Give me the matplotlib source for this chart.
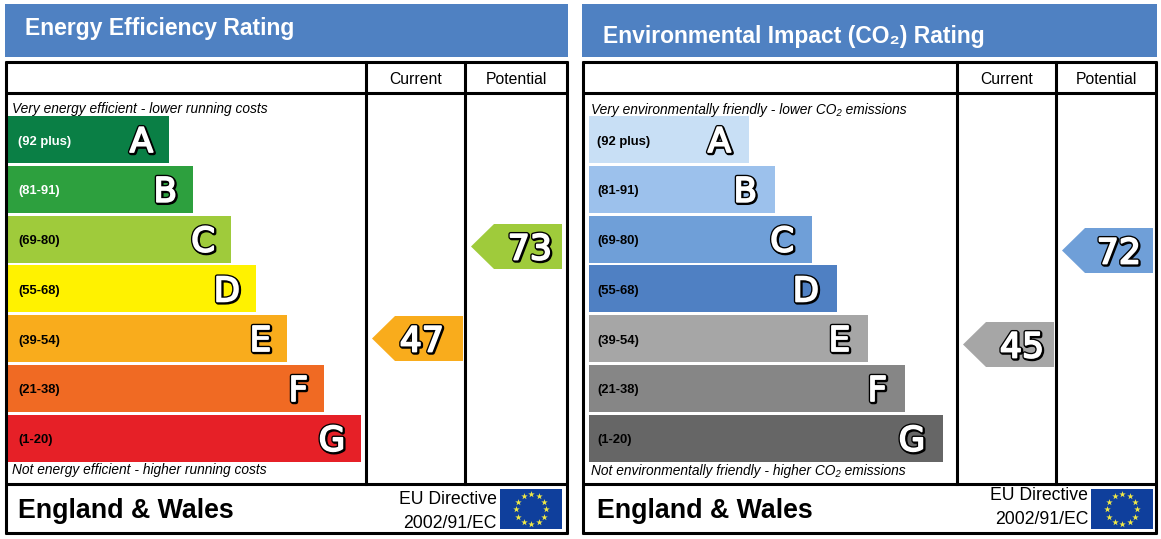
import numpy as np
import matplotlib
matplotlib.use("Agg")
import matplotlib.pyplot as plt
import matplotlib.patheffects as pe
from matplotlib.patches import Rectangle, Polygon

plt.rcParams["font.family"] = ["Liberation Sans", "DejaVu Sans"]

# data
letters = ["A", "B", "C", "D", "E", "F", "G"]
bands = ["(92 plus)", "(81-91)", "(69-80)", "(55-68)", "(39-54)", "(21-38)", "(1-20)"]
band_text_white = [True, True, False, False, False, False, False]
energy_ends = [169, 193, 231, 256, 287, 324, 361]
co2_ends = [749, 775, 812, 837, 868, 905, 943]
energy_colors = ["#0a7f45", "#2da03e", "#9fcb3b", "#fff200", "#f9ac1c", "#f06a23", "#e62027"]
co2_colors = ["#c8dff5", "#9cc1ec", "#6f9fd8", "#4f80c3", "#a6a6a6", "#868686", "#666666"]
energy_current, energy_potential = 47, 73
co2_current, co2_potential = 45, 72
energy_current_color, energy_potential_color = "#f9ac1c", "#9fcb3b"
co2_current_color, co2_potential_color = "#a6a6a6", "#6f9fd8"

fig = plt.figure(figsize=(11.61, 5.39), dpi=100)
ax = fig.add_axes([0, 0, 1, 1])
ax.set_xlim(0, 1161)
ax.set_ylim(539, 0)
ax.axis("off")

# thin black outline around a fattened white glyph
letter_fx = [pe.withStroke(linewidth=3.2, foreground="black"),
             pe.withStroke(linewidth=1.3, foreground="white")]


def big_text(x, y, s, size):
    # shadow first, then the outlined glyphs
    ax.text(x + 1, y + 1, s, fontsize=size, family="DejaVu Sans", color="black",
            ha="right", va="center", path_effects=[pe.withStroke(linewidth=3.2, foreground="black")])
    ax.text(x, y, s, fontsize=size, family="DejaVu Sans", color="white",
            ha="right", va="center", path_effects=letter_fx)


def arrow(tip, right, top, value, color, gap):
    h = 45
    pts = [(tip, top + h / 2), (tip + 23, top), (right, top), (right, top + h), (tip + 23, top + h)]
    ax.add_patch(Polygon(pts, closed=True, fc=color, ec="none"))
    big_text(right - gap, top + h / 2 + 3, str(value), 25)


def flag(x, y):
    ax.add_patch(Rectangle((x, y), 62, 40, fc="#0f3f9c", ec="none"))
    ang = np.deg2rad(np.arange(0, 360, 30))
    ax.scatter(x + 31 + 15 * np.cos(ang), y + 20 + 15 * np.sin(ang), marker="*", s=24,
               color="#f2ea45", linewidths=0, zorder=3)


def panel(x0, x1, vc, vp, title, title_y, top_note, top_y, low_note, low_y, bar_x,
          ends, colors, cur, cur_color, cur_tip, cur_top, cur_gap,
          pot, pot_color, pot_tip, pot_top, pot_gap,
          eu_text_y, band_x, flag_x, letter_gap, shift):
    ax.add_patch(Rectangle((x0, 4), x1 - x0, 53, fc="#4f81c2", ec="none"))
    ax.text(x0 + 20 + shift / 2, title_y, title, color="white", fontsize=16.5, fontweight="bold", va="center")

    lw = 2.2
    for y in [62, 92.5, 483.5, 533]:
        ax.plot([x0, x1], [y, y], color="black", lw=lw, solid_capstyle="butt")
    for x in [x0 + 1, x1 - 1]:
        ax.plot([x, x], [61, 534], color="black", lw=lw, solid_capstyle="butt")
    for x in [vc, vp]:
        ax.plot([x, x], [62, 483.5], color="black", lw=lw)

    ax.text((vc + vp) / 2, 79, "Current", fontsize=11.3, ha="center", va="center")
    ax.text((vp + x1) / 2, 79, "Potential", fontsize=11.3, ha="center", va="center")
    ax.text(x0 + 7 + shift, top_y, top_note, fontsize=9.9, style="italic", va="center")
    ax.text(x0 + 7 + shift, low_y, low_note, fontsize=9.9, style="italic", va="center")

    for i, (end, c) in enumerate(zip(ends, colors)):
        top = 116 + i * 49.8
        ax.add_patch(Rectangle((bar_x, top), end - bar_x, 47, fc=c, ec="none"))
        ax.text(band_x, top + 25.5, bands[i], fontsize=9.4, fontweight="bold",
                color="white" if (band_text_white[i] and colors is energy_colors) else "black",
                va="center")
        big_text(end - letter_gap, top + 26.5, letters[i], 24.5)

    arrow(cur_tip, cur_tip + 91, cur_top, cur, cur_color, cur_gap)
    arrow(pot_tip, pot_tip + 91, pot_top, pot, pot_color, pot_gap)

    ax.text(x0 + 13 + shift, 511, "England & Wales", fontsize=19.3, fontweight="bold", va="center")
    ax.text(flag_x - 3, eu_text_y, "EU Directive", fontsize=12.7, ha="right", va="center")
    ax.text(flag_x - 3, eu_text_y + 24, "2002/91/EC", fontsize=12.7, ha="right", va="center")
    flag(flag_x, 489)


panel(5, 568, 366, 465, "Energy Efficiency Rating", 29,
      "Very energy efficient - lower running costs", 109,
      "Not energy efficient - higher running costs", 470, 8,
      energy_ends, energy_colors, energy_current, energy_current_color, 372, 316, 19,
      energy_potential, energy_potential_color, 471, 224, 10, 499.5, 18, 500, 16, 0)
panel(582, 1157, 957, 1056, "Environmental Impact (CO₂) Rating", 36,
      "Very environmentally friendly - lower CO₂ emissions", 110,
      "Not environmentally friendly - higher CO₂ emissions", 471, 589,
      co2_ends, co2_colors, co2_current, co2_current_color, 963, 322, 10,
      co2_potential, co2_potential_color, 1062, 228, 12, 495.5, 597, 1091, 18, 2)

fig.savefig("out.png", dpi=100)
